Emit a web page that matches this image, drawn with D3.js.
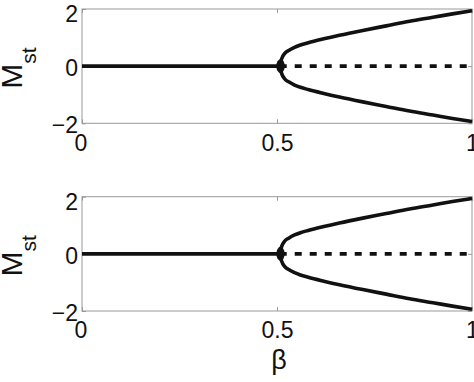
<!DOCTYPE html>
<html>
<head>
<meta charset="utf-8">
<script src="https://cdn.jsdelivr.net/npm/d3@7"></script>
<style>
  body { margin: 0; background: #fff; }
  text { font-family: "Liberation Sans", Arial, sans-serif; fill: #111; }
</style>
</head>
<body>
<script>
// data (both panels look the same)
let xTicks = [0, 0.5, 1];
let yTicks = [-2, 0, 2];
let betaStable = [0, 0.507];
let mStable = [0, 0];
let betaUnstable = [0.507, 1];
let mUnstable = [0, 0];
let betaBranch = [0.507, 0.512, 0.52, 0.53, 0.545, 0.56, 0.58, 0.62, 0.66, 0.72, 0.78, 0.84, 0.9, 0.95, 1.0];
let mUpper = [0, 0.26, 0.45, 0.55, 0.66, 0.74, 0.82, 0.956, 1.08, 1.25, 1.41, 1.57, 1.71, 1.83, 1.94];
let mLower = [0, -0.26, -0.45, -0.55, -0.66, -0.74, -0.82, -0.956, -1.08, -1.25, -1.41, -1.57, -1.71, -1.83, -1.94];
let betaCrit = 0.509;

let W = 474, H = 382;
let svg = d3.select("body").append("svg")
    .attr("width", W)
    .attr("height", H);

let panels = [
    {top: 9, bottom: 123.3},
    {top: 196.7, bottom: 311}
];
let left = 82, right = 472;
let axisGray = "#999";

let x = d3.scaleLinear().domain([0, 1]).range([0, right - left]);

panels.forEach(p => {
    let h = p.bottom - p.top;
    let y = d3.scaleLinear().domain([-2, 2]).range([h, 0]);
    let g = svg.append("g").attr("transform", "translate(" + left + "," + p.top + ")");

    // box
    g.append("rect")
        .attr("x", 0).attr("y", 0)
        .attr("width", x(1)).attr("height", h)
        .attr("fill", "none")
        .attr("stroke", axisGray)
        .attr("stroke-width", 1);

    // axes, ticks pointing inward like matlab
    let xAxis = g.append("g")
        .attr("transform", "translate(0," + h + ")")
        .call(d3.axisBottom(x).tickValues(xTicks).tickSizeInner(-4).tickSizeOuter(0).tickPadding(11)
            .tickFormat(d3.format("")));
    let xTop = g.append("g")
        .call(d3.axisTop(x).tickValues(xTicks).tickSizeInner(-4).tickSizeOuter(0).tickFormat(""));
    let yAxis = g.append("g")
        .call(d3.axisLeft(y).tickValues(yTicks).tickSizeInner(-4).tickSizeOuter(0).tickPadding(4)
            .tickFormat(d => d < 0 ? "\u2212" + Math.abs(d) : d));
    let yRight = g.append("g")
        .attr("transform", "translate(" + x(1) + ",0)")
        .call(d3.axisRight(y).tickValues(yTicks).tickSizeInner(-4).tickSizeOuter(0).tickFormat(""));

    [xAxis, xTop, yAxis, yRight].forEach(a => {
        a.select(".domain").remove();
        a.selectAll(".tick line").attr("stroke", axisGray);
        a.selectAll(".tick text")
            .style("font-family", "'Liberation Sans', Arial, sans-serif")
            .style("font-size", "23px")
            .attr("fill", "#111");
    });
    yAxis.selectAll(".tick text").attr("dy", d => d === 2 ? "0.55em" : "0.42em");
    xAxis.selectAll(".tick text").attr("dx", d => d === 0 ? "-1.5" : 0);

    let line = d3.line()
        .x(d => x(d[0]))
        .y(d => y(d[1]))
        .curve(d3.curveMonotoneX);

    // stable zero branch
    g.append("path")
        .attr("d", line(d3.zip(betaStable, mStable)))
        .attr("fill", "none").attr("stroke", "#111").attr("stroke-width", 3.6);

    // unstable zero branch (dashed)
    g.append("path")
        .attr("d", line(d3.zip(betaUnstable, mUnstable)))
        .attr("fill", "none").attr("stroke", "#111").attr("stroke-width", 3.6)
        .attr("stroke-dasharray", "7,8");

    // the two stable nonzero branches
    [mUpper, mLower].forEach(m => {
        g.append("path")
            .attr("d", line(d3.zip(betaBranch, m)))
            .attr("fill", "none").attr("stroke", "#111").attr("stroke-width", 3.6)
            .attr("stroke-linejoin", "round");
    });

    // blob at the bifurcation point
    g.append("ellipse")
        .attr("cx", x(betaCrit))
        .attr("cy", y(0))
        .attr("rx", 4.2)
        .attr("ry", 7)
        .attr("fill", "#111");

    // y label M_st
    let lab = g.append("text")
        .attr("transform", "translate(" + (22 - left) + "," + (h / 2 + 2) + ") rotate(-90)")
        .attr("text-anchor", "middle")
        .style("font-size", "30px");
    lab.append("tspan").text("M");
    lab.append("tspan").attr("dy", 14).style("font-size", "21px").text("st");
});

// x label
svg.append("text")
    .attr("x", left + x(0.5) + 2)
    .attr("y", 369)
    .attr("text-anchor", "middle")
    .style("font-size", "27px")
    .text("\u03b2");
</script>
</body>
</html>
